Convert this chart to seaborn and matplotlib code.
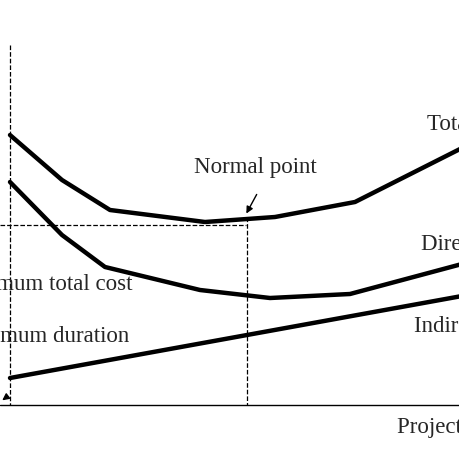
import matplotlib
matplotlib.use("Agg")
import matplotlib.pyplot as plt
import seaborn as sns

sns.set_style("white")
plt.rcParams['font.family'] = ['Liberation Serif', 'DejaVu Serif']

total_x = [10, 62, 110, 205, 275, 355, 462]
total_y = [135, 180, 210, 222, 217, 202, 148]
direct_x = [10, 62, 105, 200, 270, 350, 462]
direct_y = [182, 235, 267, 290, 298, 294, 264]
indirect_x = [10, 462]
indirect_y = [378, 296]

fig = plt.figure(figsize=(4.59, 4.59), dpi=100)
ax = fig.add_axes([0, 0, 1, 1])
ax.set_xlim(0, 459)
ax.set_ylim(459, 0)
ax.axis('off')

for xs, ys in [(total_x, total_y), (direct_x, direct_y), (indirect_x, indirect_y)]:
    sns.lineplot(x=xs, y=ys, ax=ax, color='black', linewidth=3.2, sort=False, estimator=None)

ax.plot([10, 10], [45, 405], 'k--', lw=0.9)
ax.plot([0, 459], [405, 405], 'k-', lw=1.0)
ax.plot([0, 246], [225, 225], 'k--', lw=0.9)
ax.plot([247, 247], [217, 405], 'k--', lw=0.9)
ax.annotate('', xy=(245, 216), xytext=(258, 192),
            arrowprops=dict(arrowstyle='-|>', color='black', lw=1))
ax.annotate('', xy=(0, 402), xytext=(8, 396),
            arrowprops=dict(arrowstyle='-|>', color='black', lw=1))

fs = 16.5
ax.text(255, 168, 'Normal point', fontsize=fs, ha='center', va='center')
ax.text(427, 124, 'Total cost', fontsize=fs, ha='left', va='center')
ax.text(421, 245, 'Direct cost', fontsize=fs, ha='left', va='center')
ax.text(414, 326, 'Indirect cost', fontsize=fs, ha='left', va='center')
ax.text(133, 284, 'Minimum total cost', fontsize=fs, ha='right', va='center')
ax.text(129, 336, 'Minimum duration', fontsize=fs, ha='right', va='center')
ax.text(397, 428, 'Project duration', fontsize=fs, ha='left', va='center')

fig.savefig('out.png', dpi=100)
